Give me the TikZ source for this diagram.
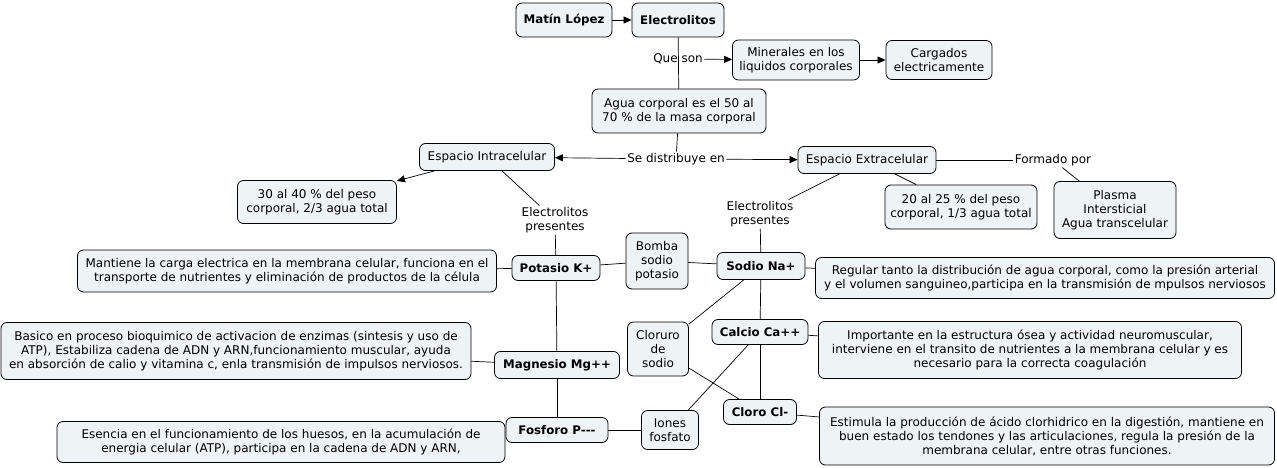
\documentclass[tikz,border=0pt]{standalone}
\usepackage{fontspec}
\setmainfont{DejaVu Sans}
\usepackage{tikz}
\usetikzlibrary{arrows.meta}
\definecolor{boxfill}{RGB}{238,243,246}

\begin{document}
\begin{tikzpicture}[x=1pt,y=-1pt,
    concept/.style={draw=black, fill=boxfill, rounded corners=6pt, align=center,
      inner xsep=3pt, inner ysep=1pt, line width=0.8pt,
      font=\fontsize{12}{14}\selectfont},
    keyconcept/.style={concept, font=\fontsize{11.8}{14}\selectfont\bfseries},
    phrase/.style={align=center, inner sep=1.5pt, font=\fontsize{12}{14}\selectfont},
    link/.style={draw=black, line width=0.7pt},
    arrow/.style={link, -{Triangle[length=8pt,width=7pt]}}]
      \useasboundingbox (0,0) rectangle (1277,468);
      % top
      \node[keyconcept, minimum width=96, minimum height=34] (martin) at (564,20) {Matín López};
      \node[keyconcept, minimum width=92, minimum height=34] (electro) at (678,20) {Electrolitos};
      \node[phrase] (queson) at (678,59) {Que son};
      \node[concept, minimum width=127, minimum height=40] (minerales) at (796,60) {Minerales en los\\liquidos corporales};
      \node[concept, minimum width=106, minimum height=39] (cargados) at (939,60) {Cargados\\electricamente};
      \node[concept, minimum width=174, minimum height=44] (agua) at (679,111) {Agua corporal es el 50 al\\70 \% de la masa corporal};
      \node[phrase] (sedist) at (676,159) {Se distribuye en};
      % espacios
      \node[concept, minimum width=135, minimum height=27] (intra) at (487,157) {Espacio Intracelular};
      \node[concept, minimum width=138, minimum height=27] (extra) at (867,160) {Espacio Extracelular};
      \node[phrase] (formado) at (1053,160) {Formado por};
      \node[concept, minimum width=122, minimum height=57] (plasma) at (1115,210) {Plasma\\Intersticial\\Agua transcelular};
      \node[concept, minimum width=152, minimum height=44] (veinte) at (961,207) {20 al 25 \% del peso\\corporal, 1/3 agua total};
      \node[concept, minimum width=159, minimum height=43] (treinta) at (317,202) {30 al 40 \% del peso\\corporal, 2/3 agua total};
      \node[phrase] (presL) at (555,220) {Electrolitos\\presentes};
      \node[phrase] (presR) at (760,214) {Electrolitos\\presentes};
      % electrolitos
      \node[keyconcept, minimum width=88, minimum height=25] (potasio) at (556,268) {Potasio K+};
      \node[concept, minimum width=419, minimum height=42] (mantiene) at (287,271) {Mantiene la carga electrica en la membrana celular, funciona en el\\transporte de nutrientes y eliminación de productos de la célula};
      \node[concept, minimum width=62, minimum height=56] (bomba) at (657,261) {Bomba\\sodio\\potasio};
      \node[keyconcept, minimum width=88, minimum height=27] (sodio) at (761,266) {Sodio Na+};
      \node[concept, minimum width=459, minimum height=41] (regular) at (1045,278) {Regular tanto la distribución de agua corporal, como la presión arterial\\y el volumen sanguineo,participa en la transmisión de mpulsos nerviosos};
      \node[keyconcept, minimum width=125, minimum height=27] (magnesio) at (557,365) {Magnesio Mg++};
      \node[concept, minimum width=470, minimum height=57] (basico) at (236,351) {Basico en proceso bioquimico de activacion de enzimas (sintesis y uso de\\ATP), Estabiliza cadena de ADN y ARN,funcionamiento muscular, ayuda\\en absorción de calio y vitamina c, enla transmisión de impulsos nerviosos.};
      \node[concept, minimum width=61, minimum height=54] (cloruro) at (658,349) {Cloruro\\de\\sodio};
      \node[keyconcept, minimum width=96, minimum height=25] (calcio) at (760,332) {Calcio Ca++};
      \node[concept, minimum width=423, minimum height=57] (importante) at (1030,350) {Importante en la estructura ósea y actividad neuromuscular,\\interviene en el transito de nutrientes a la membrana celular y es\\necesario para la correcta coagulación};
      \node[keyconcept, minimum width=102, minimum height=25] (fosforo) at (557,430) {Fosforo P-{}-{}-};
      \node[concept, minimum width=448, minimum height=41] (esencia) at (281,442) {Esencia en el funcionamiento de los huesos, en la acumulación de\\energia celular (ATP), participa en la cadena de ADN y ARN,};
      \node[concept, minimum width=57, minimum height=39] (iones) at (670,430) {Iones\\fosfato};
      \node[keyconcept, minimum width=73, minimum height=25] (cloro) at (760,412) {Cloro Cl-};
      \node[concept, minimum width=455, minimum height=58] (estimula) at (1047,436) {Estimula la producción de ácido clorhidrico en la digestión, mantiene en\\buen estado los tendones y las articulaciones, regula la presión de la\\membrana celular, entre otras funciones.};
      % connectors
      \draw[arrow] (martin) to (electro);
      \draw[link] (electro) to (agua);
      \draw[arrow] (queson) to (minerales);
      \draw[arrow] (minerales) to (cargados);
      \draw[link] (agua) to (sedist);
      \draw[arrow] (sedist) to (intra);
      \draw[arrow] (sedist) to (extra);
      \draw[arrow] (intra) to (treinta);
      \draw[link] (intra) to (presL);
      \draw[link] (presL) to (potasio);
      \draw[link] (extra) to (veinte);
      \draw[link] (extra) to (formado);
      \draw[link] (formado) to (plasma);
      \draw[link] (extra) to (presR);
      \draw[link] (presR) to (sodio);
      \draw[link] (potasio) to (mantiene);
      \draw[link] (potasio) to (bomba);
      \draw[link] (bomba) to (sodio);
      \draw[link] (potasio) to (magnesio);
      \draw[link] (magnesio) to (basico);
      \draw[link] (magnesio) to (fosforo);
      \draw[link] (fosforo) to (esencia);
      \draw[link] (fosforo) to (iones);
      \draw[link] (sodio) to (regular);
      \draw[link] (sodio) to (calcio);
      \draw[link] (sodio) to (cloruro);
      \draw[link] (calcio) to (importante);
      \draw[link] (calcio) to (iones);
      \draw[link] (calcio) to (cloro);
      \draw[link] (cloruro) to (cloro);
      \draw[link] (cloro) to (estimula);
    \end{tikzpicture}
\end{document}
